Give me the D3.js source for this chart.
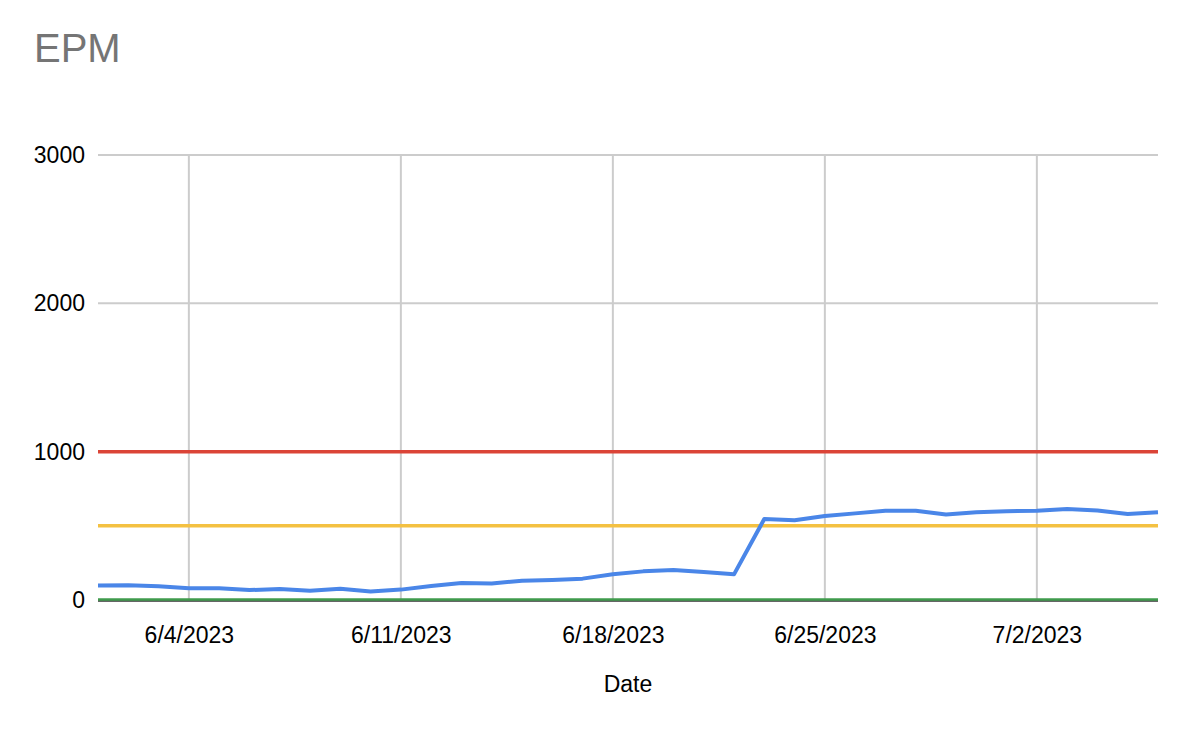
<!DOCTYPE html>
<html>
<head>
<meta charset="utf-8">
<script src="https://cdn.jsdelivr.net/npm/d3@7"></script>
<style>
  html, body { margin: 0; padding: 0; background: #fff; }
  svg { display: block; font-family: "Liberation Sans", Arial, sans-serif; }
</style>
</head>
<body>
<div class="chart_container"></div>
<script>
'use strict';

// daily EPM readings, 6/1/2023 .. 7/6/2023
const dates = [
  '2023-06-01', '2023-06-02', '2023-06-03', '2023-06-04', '2023-06-05', '2023-06-06',
  '2023-06-07', '2023-06-08', '2023-06-09', '2023-06-10', '2023-06-11', '2023-06-12',
  '2023-06-13', '2023-06-14', '2023-06-15', '2023-06-16', '2023-06-17', '2023-06-18',
  '2023-06-19', '2023-06-20', '2023-06-21', '2023-06-22', '2023-06-23', '2023-06-24',
  '2023-06-25', '2023-06-26', '2023-06-27', '2023-06-28', '2023-06-29', '2023-06-30',
  '2023-07-01', '2023-07-02', '2023-07-03', '2023-07-04', '2023-07-05', '2023-07-06'
];
const epm = [
  97, 99, 92, 79, 79, 67,
  74, 63, 76, 58, 70, 94,
  115, 112, 130, 135, 144, 173,
  193, 202, 188, 173, 546, 537,
  566, 584, 602, 602, 577, 591,
  598, 602, 613, 604, 580, 591
];

// constant reference lines
const thresholds = [
  { name: 'red', value: 1000, color: '#db4437' },
  { name: 'yellow', value: 500, color: '#f4c142' },
  { name: 'green', value: 0, color: '#3f9b4c' }
];

const yTicks = [0, 1000, 2000, 3000];
const xTickDates = ['2023-06-04', '2023-06-11', '2023-06-18', '2023-06-25', '2023-07-02'];

const width = 1192,
  height = 730,
  margin = { top: 155, right: 34, bottom: 130, left: 98 };

const parse = d3.timeParse('%Y-%m-%d');
const fmt = d => `${d.getMonth() + 1}/${d.getDate()}/${d.getFullYear()}`;

const dataset = dates.map((d, i) => ({ date: parse(d), value: epm[i] }));

const svg = d3.select('.chart_container')
  .append('svg')
  .attr('width', width)
  .attr('height', height);

const xScale = d3.scaleTime()
  .domain(d3.extent(dataset, d => d.date))
  .range([margin.left, width - margin.right]);

const yScale = d3.scaleLinear()
  .domain([0, 3000])
  .range([height - margin.bottom, margin.top]);

// title
svg.append('text')
  .attr('x', 34)
  .attr('y', 62)
  .attr('fill', '#757575')
  .style('font-size', '40px')
  .text('EPM');

// gridlines
svg.append('g')
  .attr('class', 'grid-y')
  .selectAll('line')
  .data(yTicks)
  .enter()
  .append('line')
  .attr('x1', margin.left)
  .attr('x2', width - margin.right)
  .attr('y1', d => yScale(d))
  .attr('y2', d => yScale(d))
  .attr('stroke', '#cccccc')
  .attr('stroke-width', 2);

svg.append('g')
  .attr('class', 'grid-x')
  .selectAll('line')
  .data(xTickDates.map(parse))
  .enter()
  .append('line')
  .attr('x1', d => xScale(d))
  .attr('x2', d => xScale(d))
  .attr('y1', margin.top)
  .attr('y2', height - margin.bottom)
  .attr('stroke', '#cccccc')
  .attr('stroke-width', 2);

// axes (labels only, Sheets style)
const xAxis = d3.axisBottom(xScale)
  .tickValues(xTickDates.map(parse))
  .tickFormat(fmt)
  .tickSize(0)
  .tickPadding(27);

const yAxis = d3.axisLeft(yScale)
  .tickValues(yTicks)
  .tickFormat(d3.format('d'))
  .tickSize(0)
  .tickPadding(13);

svg.append('g')
  .attr('id', 'x-axis')
  .attr('transform', `translate(0, ${height - margin.bottom})`)
  .call(xAxis)
  .call(g => g.select('.domain').remove())
  .selectAll('text')
  .attr('fill', '#000')
  .style('font-size', '23px')
  .style('font-family', '"Liberation Sans", Arial, sans-serif');

svg.append('g')
  .attr('id', 'y-axis')
  .attr('transform', `translate(${margin.left}, 0)`)
  .call(yAxis)
  .call(g => g.select('.domain').remove())
  .selectAll('text')
  .attr('fill', '#000')
  .style('font-size', '23px')
  .style('font-family', '"Liberation Sans", Arial, sans-serif');

// x axis title
svg.append('text')
  .attr('x', (margin.left + width - margin.right) / 2)
  .attr('y', 692)
  .attr('text-anchor', 'middle')
  .attr('fill', '#000')
  .style('font-size', '23px')
  .text('Date');

// baseline
svg.append('line')
  .attr('x1', margin.left)
  .attr('x2', width - margin.right)
  .attr('y1', yScale(0) + 1)
  .attr('y2', yScale(0) + 1)
  .attr('stroke', '#333')
  .attr('stroke-width', 1.5);

// threshold lines
const extent = xScale.domain();
const flat = d3.line()
  .x(d => xScale(d[0]))
  .y(d => yScale(d[1]));

svg.append('g')
  .attr('class', 'thresholds')
  .selectAll('path')
  .data(thresholds)
  .enter()
  .append('path')
  .attr('d', t => flat([[extent[0], t.value], [extent[1], t.value]]))
  .attr('transform', t => t.value === 0 ? 'translate(0,-0.5)' : null)
  .attr('fill', 'none')
  .attr('stroke', t => t.color)
  .attr('stroke-width', t => t.value === 0 ? 2.5 : 3.5);

// EPM series
const line = d3.line()
  .x(d => xScale(d.date))
  .y(d => yScale(d.value));

svg.append('path')
  .datum(dataset)
  .attr('class', 'series')
  .attr('d', line)
  .attr('fill', 'none')
  .attr('stroke', '#4a86e8')
  .attr('stroke-width', 4)
  .attr('stroke-linejoin', 'round');
</script>
</body>
</html>
